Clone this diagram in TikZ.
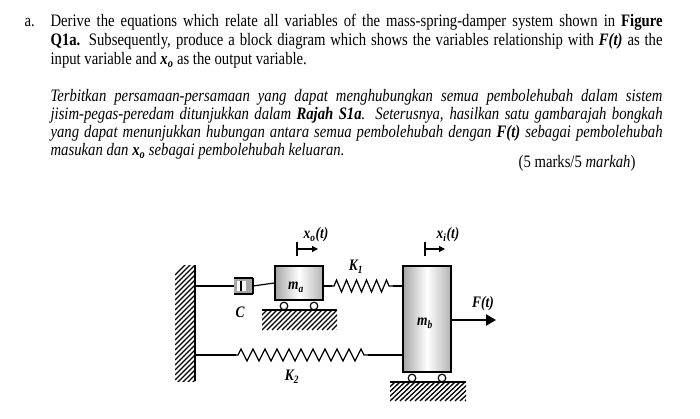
\documentclass[tikz,border=0pt]{standalone}
\usepackage{fontspec}
\setmainfont{Liberation Serif}[FakeStretch=0.84]
\usetikzlibrary{decorations.pathmorphing,arrows.meta}
\begin{document}
\begin{tikzpicture}[x=1pt,y=-1pt,line width=1.2pt,
  txt/.style={anchor=base west,inner sep=0pt,font=\fontsize{17.5}{20}\selectfont},
  lab/.style={inner sep=0pt,font=\fontsize{16}{18}\selectfont\bfseries\itshape},
  massbox/.style={draw,line width=1.3pt,left color=gray!70,right color=gray!60,middle color=white,shading angle=90},
  springz/.style={decorate,decoration={zigzag,segment length=10,amplitude=6,pre length=2,post length=2}},
  springl/.style={decorate,decoration={zigzag,segment length=12,amplitude=6,pre length=2,post length=2}},
  hatch/.style={line width=1.3pt},
  wheel/.style={draw,line width=1.2pt,fill=white}]
\useasboundingbox (0,0) rectangle (700,419);
% text
\node[txt] (a) at (24,27) {a.};
\node[txt] (l1) at (50,27) {\makebox[612pt][s]{Derive the equations which relate all variables of the mass-spring-damper system shown in \textbf{Figure}}};
\node[txt] (l2) at (50,46) {\makebox[612pt][s]{\textbf{Q1a.} Subsequently, produce a block diagram which shows the variables relationship with \textbf{\textit{F(t)}} as the}};
\node[txt] (l3) at (50,65) {input variable and \textbf{\textit{x\textsubscript{o}}} as the output variable.};
\node[txt] (l4) at (50,102) {\itshape\makebox[612pt][s]{Terbitkan persamaan-persamaan yang dapat menghubungkan semua pembolehubah dalam sistem}};
\node[txt] (l5) at (50,120) {\itshape\makebox[612pt][s]{jisim-pegas-peredam ditunjukkan dalam \textbf{Rajah S1a}. Seterusnya, hasilkan satu gambarajah bongkah}};
\node[txt] (l6) at (50,138) {\itshape\makebox[612pt][s]{yang dapat menunjukkan hubungan antara semua pembolehubah dengan \textbf{F(t)} sebagai pembolehubah}};
\node[txt] (l7) at (50,156) {\itshape masukan dan \textbf{x\textsubscript{o}} sebagai pembolehubah keluaran.};
\node[txt,anchor=base east] (mk) at (636,168) {(5 marks/5 \textit{markah})};
% wall
\begin{scope}
\clip (175,265) rectangle (195,381);
\foreach \i in {-10,-5,...,130} \draw[hatch] (175,265+\i+20) -- (195,265+\i);
\end{scope}
\draw (195,265) -- (195,381);
% grounds
\begin{scope}
\clip (262,310) rectangle (337,330);
\foreach \i in {0,5,...,100} \draw[hatch] (262+\i-20,330) -- (262+\i,310);
\end{scope}
\draw (262,310) -- (337,310);
\begin{scope}
\clip (390,382) rectangle (466,401);
\foreach \i in {0,5,...,100} \draw[hatch] (390+\i-20,401) -- (390+\i,382);
\end{scope}
\draw (390,382) -- (466,382);
% masses
\node[massbox,minimum width=48,minimum height=34,inner sep=0] (ma) at (299,283) {};
\node[lab] at (296,287) {m\textsubscript{a}};
\node[massbox,minimum width=48,minimum height=106,inner sep=0] (mb) at (427,319) {};
\node[lab] at (425,323) {m\textsubscript{b}};
\foreach \x in {284,314} \draw[wheel] (\x,306) circle (3.8);
\foreach \x in {412,442} \draw[wheel] (\x,378) circle (3.8);
% damper
\coordinate (w1) at (195,286);
\draw (w1) -- (241,286);
\fill[gray!70] (234,278) rectangle (253,294);
\draw (234,278) -- (253,278) (234,294) -- (253,294) (253,278) -- (253,294);
\fill[white] (237,281) rectangle (246,291);
\draw[line width=2pt] (241,281) -- (241,291);
\draw (253,286) -- (ma.west);
\node[lab] at (240,312) {C};
% K1
\coordinate (k1a) at (332,286);
\coordinate (k1b) at (393,286);
\draw (ma.east |- k1a) -- (k1a);
\draw[springz] (k1a) -- (k1b);
\draw (k1b) -- (k1b -| mb.west);
\node[lab] at (356,267) {K\textsubscript{1}};
% K2
\coordinate (w2) at (195,355);
\coordinate (k2a) at (236,355);
\coordinate (k2b) at (368,355);
\draw (w2) -- (k2a);
\draw[springl] (k2a) -- (k2b);
\draw (k2b) -- (k2b -| mb.west);
\node[lab] at (292,377) {K\textsubscript{2}};
% force
\coordinate (fe) at (496,320);
\draw[line width=2.8pt,-{Triangle[length=10pt,width=11pt]}] (mb.east |- fe) -- (fe);
\node[lab] at (483,304) {F(t)};
% displacements
\draw (297,242) -- (297,256);
\draw[-{Triangle[length=6pt,width=6pt]}] (297,249) -- (318,249);
\node[lab] at (316,235) {x\textsubscript{o}(t)};
\draw (425,242) -- (425,256);
\draw[-{Triangle[length=6pt,width=6pt]}] (425,249) -- (445,249);
\node[lab] at (448,235) {x\textsubscript{i}(t)};
\end{tikzpicture}
\end{document}
